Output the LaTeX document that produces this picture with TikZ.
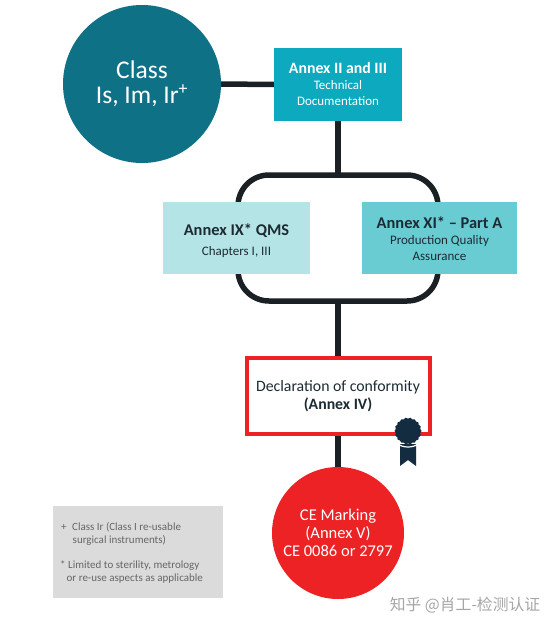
\documentclass[tikz,border=0pt]{standalone}
\usepackage{fontspec}
\setmainfont{Carlito}
\newfontfamily\cjk{Noto Sans CJK SC}
\definecolor{tealc}{HTML}{0F7186}
\definecolor{boxa}{HTML}{0DA9BE}
\definecolor{boxb}{HTML}{B5E4E6}
\definecolor{boxc}{HTML}{69CCD2}
\definecolor{redc}{HTML}{EC2224}
\definecolor{ink}{HTML}{1C2B33}
\definecolor{wirec}{HTML}{1A2023}
\definecolor{navy}{HTML}{142C40}
\tikzset{
  x=1pt,y=-1pt,
  wire/.style={draw=wirec,line width=5.5pt},
  annexbox/.style={minimum width=#1,minimum height=72pt,inner sep=0pt,align=center,text=ink},
  round/.style={circle,inner sep=0pt,align=center}
}
\begin{document}
\begin{tikzpicture}
\useasboundingbox (0,0) rectangle (554,629);
\fill[white] (0,0) rectangle (554,629);
\coordinate (looptop) at (338,175);
\coordinate (loopbot) at (338,301);
\node[round,fill=tealc,minimum size=158pt,text=white,font=\fontsize{25.5}{25}\selectfont] (classc) at (142,84) {Class\\Is, Im, Ir\textsuperscript{+}};
\node[annexbox=128pt,minimum height=73pt,fill=boxa,text=white,font=\fontsize{13}{16}\selectfont] (tech) at (338,84.5) {\textbf{\fontsize{15.8}{16}\selectfont Annex II and III}\\Technical\\Documentation};
\draw[wire] (classc.east) -- (tech.west);
\draw[wire] (tech.south) -- (looptop);
\draw[wire,rounded corners=31pt] (238,238) -- (238,175) -- (438,175) -- (438,301) -- (238,301) -- cycle;
\node[annexbox=147pt,fill=boxb,font=\fontsize{13}{20}\selectfont] (qms) at (236.5,238) {\rule{0pt}{17pt}\textbf{\fontsize{16.4}{20}\selectfont Annex IX* QMS}\\Chapters I, III};
\node[annexbox=155pt,fill=boxc,font=\fontsize{13}{16}\selectfont] (prod) at (439.5,238) {\rule{0pt}{14pt}\textbf{\fontsize{16.4}{16}\selectfont Annex XI* -- Part A}\\Production Quality\\Assurance};
\node[draw=redc,line width=4pt,fill=white,minimum width=183pt,minimum height=76pt,inner sep=0pt,align=center,text=ink,font=\fontsize{15.8}{18}\selectfont] (doc) at (338,396) {Declaration of conformity\\\textbf{(Annex IV)}};
\draw[wire] (loopbot) -- (doc.north);
\node[round,fill=redc,minimum size=132pt,text=white,font=\fontsize{16.5}{18}\selectfont] (ce) at (338,533) {CE Marking\\(Annex V)\\CE 0086 or 2797};
\draw[wire] (doc.south) -- (ce.north);
% ribbon badge
\fill[navy] (400,444) -- (416,444) -- (416,466) -- (408,460) -- (400,466) -- cycle;
\draw[white,line width=1.2pt] (398,444) .. controls (403,448) and (413,448) .. (418,444);
\fill[navy] (408,431) +(0:13.5) \foreach \a in {20,40,...,360} { -- +({\a-10}:12.4) -- +(\a:13.5)} -- cycle;
\node[fill=black!14,minimum width=170pt,minimum height=92pt,inner sep=0pt] (note) at (138,552) {};
\node[anchor=north west,inner sep=0pt,align=left,text=black!60,font=\fontsize{11}{13}\selectfont] (notea) at (61,522) {+\hspace{5.5pt}Class Ir (Class I re-usable\\\hspace{11.5pt}surgical instruments)};
\node[anchor=north west,inner sep=0pt,align=left,text=black!60,font=\fontsize{11}{13}\selectfont] (noteb) at (60,560) {*\hspace{2.5pt}Limited to sterility, metrology\\\hspace{6.5pt}or re-use aspects as applicable};
\node[inner sep=0pt,text=black!35,font=\cjk\fontsize{15.8}{17}\selectfont] (mark) at (465,605) {知乎 @肖工-检测认证};
\end{tikzpicture}
\end{document}
